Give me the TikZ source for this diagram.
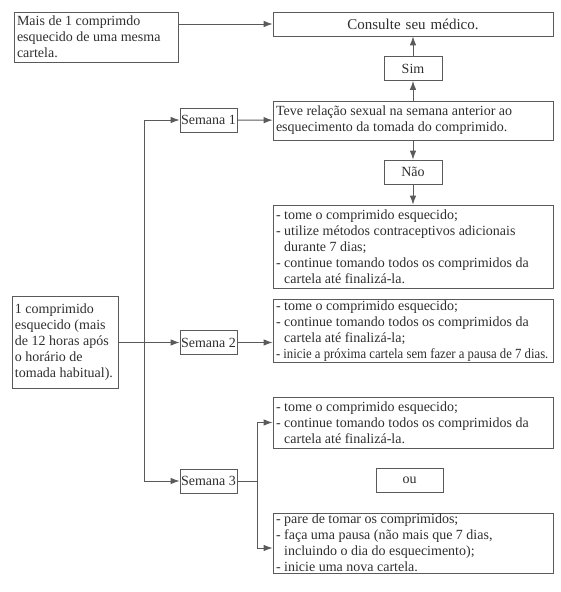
\documentclass[tikz,border=0pt]{standalone}
\usepackage{fontspec}
\setmainfont{Liberation Serif}
\usepackage{tikz}
\usetikzlibrary{calc,arrows.meta}
\definecolor{borda}{HTML}{5A5A5A}
\definecolor{texto}{HTML}{2E2E2E}
\newcommand{\recuo}{\hphantom{- }}
\tikzset{
	caixa/.style={draw=borda,line width=0.8pt,inner xsep=3pt,inner ysep=1pt,align=flush left,text=texto,font=\fontsize{14}{16}\selectfont},
	larga/.style={caixa,text width=274pt},
	curta/.style={caixa,align=center,inner xsep=1pt,minimum width=58pt,minimum height=24pt},
	seta/.style={draw=borda,line width=0.9pt,-{Latex[length=9pt,width=6.5pt]}},
	fio/.style={draw=borda,line width=0.9pt}
}

\begin{document}
\begin{tikzpicture}[x=1pt,y=-1pt]
				\useasboundingbox (0,0) rectangle (561,592);
				\node[caixa,text width=158pt,minimum height=50pt] (mais) at (96,37) {Mais de 1 comprimdo\\esquecido de uma mesma\\cartela.};
				\node[larga,align=center,minimum height=24pt,font=\fontsize{15}{16}\selectfont] (medico) at (413,24) {Consulte seu médico.};
				\node[curta] (sim) at (413,68.5) {Sim};
				\node[larga,minimum height=39pt] (teve) at (413,120.5) {Teve relação sexual na semana anterior ao\\esquecimento da tomada do comprimido.};
				\node[curta] (nao) at (413,172) {Não};
				\node[larga,minimum height=83pt] (acao1) at (413,246.5) {- tome o comprimido esquecido;\\- utilize métodos contraceptivos adicionais\\\recuo durante 7 dias;\\- continue tomando todos os comprimidos da\\\recuo cartela até finalizá-la.};
				\node[larga,minimum height=46pt] (acao2) at (413,331) {- tome o comprimido esquecido;\\- continue tomando todos os comprimidos da\\\recuo cartela até finalizá-la;\\\scalebox{0.91}[1]{- inicie a próxima cartela sem fazer a pausa de 7 dias.}};
				\node[larga,minimum height=51pt] (acao3a) at (413,422.5) {- tome o comprimido esquecido;\\- continue tomando todos os comprimidos da\\\recuo cartela até finalizá-la.};
				\node[curta,minimum width=67pt] (ou) at (409.5,480.5) {ou};
				\node[larga,minimum height=60pt] (acao3b) at (413,543) {- pare de tomar os comprimidos;\\- faça uma pausa (não mais que 7 dias,\\\recuo incluindo o dia do esquecimento);\\- inicie uma nova cartela.};
				\node[caixa,text width=100pt,minimum height=92pt] (um) at (65,342.5) {1 comprimido\\esquecido (mais\\de 12 horas após\\o horário de\\tomada habitual).};
				\node[curta,minimum width=57pt] (sem1) at (208.5,120) {Semana 1};
				\node[curta,minimum width=57pt] (sem2) at (208.5,342.5) {Semana 2};
				\node[curta,minimum width=57pt] (sem3) at (208.5,481) {Semana 3};
				\coordinate (tronco1) at (144,120);
				\coordinate (tronco3) at (144,481);
				\coordinate (ramo) at (257,481);
				\draw[seta] (mais.east |- medico.west) -- (medico.west);
				\draw[seta] (teve) -- (sim);
				\draw[seta] (sim) -- (medico);
				\draw[seta] (teve) -- (nao);
				\draw[seta] (nao) -- (acao1);
				\draw[fio] (tronco1) -- (tronco3);
				\draw[seta] (tronco1) -- (sem1);
				\draw[seta] (tronco3) -- (sem3);
				\draw[seta] (um) -- (sem2);
				\draw[seta] (sem1) -- (teve);
				\draw[seta] (sem2.east) -- (sem2.east -| acao2.west);
				\draw[fio] (sem3) -- (ramo);
				\draw[seta] (ramo) |- (acao3a.west);
				\draw[seta] (ramo) |- ([yshift=-5pt]acao3b.west);
\end{tikzpicture}
\end{document}
